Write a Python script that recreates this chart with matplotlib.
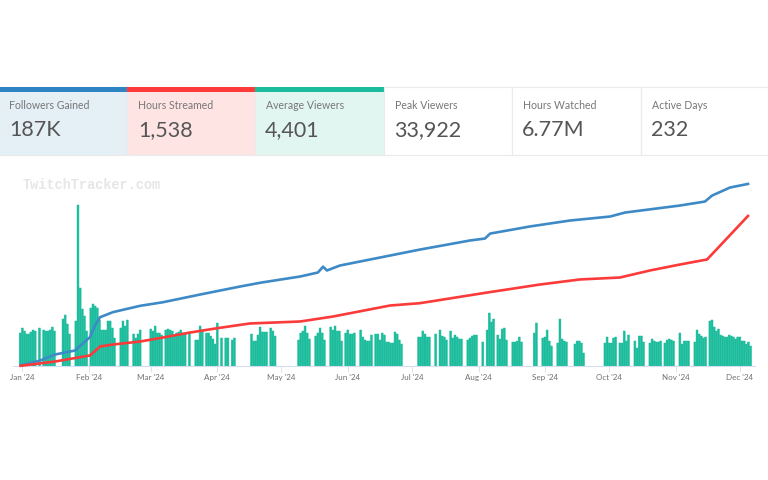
import matplotlib
matplotlib.use("Agg")
import matplotlib.pyplot as plt
from matplotlib.patches import Rectangle

W, H = 768, 480

card_labels = ["Followers Gained", "Hours Streamed", "Average Viewers",
               "Peak Viewers", "Hours Watched", "Active Days"]
card_values = ["187K", "1,538", "4,401", "33,922", "6.77M", "232"]
card_fills = ["#E4EFF6", "#FFE4E4", "#E1F6F1", "#FFFFFF", "#FFFFFF", "#FFFFFF"]
card_bars = ["#2E84C3", "#FF3A3A", "#1ABC9C", None, None, None]
card_edges = [-2, 126.5, 255, 384, 512, 640.5, 770]
label_x = [9, 138, 266, 395, 523, 652]
value_x = [9, 138, 265, 394, 522, 651]

month_days = [0, 31, 60, 91, 121, 152, 182, 213, 244, 274, 305, 335]
month_labels = ["Jan '24", "Feb '24", "Mar '24", "Apr '24", "May '24", "Jun '24",
                "Jul '24", "Aug '24", "Sep '24", "Oct '24", "Nov '24", "Dec '24"]

# daily bar heights (chart units)
bars_a = [33, 38, 35, 32, 32, 34, 36, 35, 0, 38, 0, 36, 35, 35, 36, 39, 35, 0, 0, 0,
          47, 51, 42, 32, 0, 0, 45, 161, 78, 57, 50, 35, 0,
          58, 62, 60, 58, 46, 36, 36, 36, 45, 45, 38, 28, 0, 0,
          38, 45, 40, 46, 0, 0, 32, 28, 32, 36, 0, 0, 0, 0,
          37, 35, 40, 33, 33, 31, 0, 36, 37, 36, 35, 31, 33, 34, 36, 33, 33, 0, 33, 0, 0,
          26, 26, 40, 36, 0, 33, 33, 30, 27, 22, 43, 0, 28, 0, 28, 28, 0, 26, 28]
bars_b = [0, 0, 0, 0, 0, 0, 0, 32, 25, 25, 31, 39, 34, 34, 34, 0, 38, 35, 30,
          0, 0, 0, 0, 0, 0, 0, 0, 0, 0, 26, 33, 35, 40, 33, 27, 0, 0,
          30, 33, 38, 33, 26, 0, 0, 39, 36, 40, 35, 35, 25, 0,
          33, 36, 32, 32, 33, 0, 0, 36, 29, 26, 25, 25, 31, 0,
          32, 32, 26, 33, 31, 24, 24, 23, 23, 34, 32, 26, 22,
          0, 0, 0, 0, 0, 0, 0, 29, 29, 35, 32, 29, 29, 0, 0, 32, 0, 36, 30, 29, 26, 0,
          35, 28, 31, 29, 27, 27, 0, 0, 26, 28, 30, 31, 31, 0, 0, 24, 0]
bars_c = [36, 53, 44, 47, 0, 31, 27, 37, 38, 26, 0, 0, 24, 24, 25, 29, 24,
          0, 0, 0, 0, 0, 33, 43, 0, 0, 28, 29, 36, 25, 20, 0, 0,
          23, 47, 27, 25, 24, 0, 0, 0, 22, 25, 25, 23, 13,
          0, 0, 0, 0, 0, 0, 0, 0, 0,
          23, 29, 23, 23, 28, 29, 0, 23, 23, 35, 25, 31, 0, 0,
          25, 18, 30, 30, 24, 0, 0, 23, 27, 25, 24, 24, 25, 0,
          23, 26, 27, 26, 25, 0, 0, 33, 22, 25, 25, 25, 0, 0,
          24, 36, 32, 30, 28, 29, 0, 45, 46, 39, 35, 37, 31, 30, 29, 29, 31, 30, 29,
          27, 29, 29, 25, 25, 22, 24, 20]
bar_first_day = -1.0

blue_days = [-0.75, 8.3, 15.3, 24.6, 31.6, 33.9, 36.3, 42.3, 55, 65.7, 83, 101.6, 111.9,
             129.7, 138, 140.4, 142.2, 148.3, 167, 185.7, 209, 216, 218.4, 237, 255.7,
             274.4, 281.4, 307, 318.7, 322, 330.4, 338.8]
followers_k = [0.5, 5.6, 11.8, 15.9, 29.6, 41.6, 50.1, 55.3, 61.8, 65.5, 73.4, 81.6, 85.8,
               91.9, 96, 102, 98.1, 103.2, 111.4, 119.6, 128.9, 130.9, 136, 143.3, 149.4,
               153.5, 157.6, 164.8, 168.9, 175, 183.3, 187]

red_days = [-0.75, 15.3, 31.6, 36.3, 42.3, 55, 65.7, 78.3, 90.9, 106.3, 129.7, 145, 171.7,
            185.7, 217, 241.6, 260.3, 279, 293, 307, 319.7, 338.8]
hours_streamed = [2, 46, 108, 200, 220, 251, 292, 343, 387, 436, 456, 507, 620,
                  644, 753, 835, 887, 907, 979, 1040, 1092, 1538]

fig = plt.figure(figsize=(W / 100, H / 100), dpi=100, facecolor="white")

# cards, in pixel coordinates
bg = fig.add_axes([0, 0, 1, 1])
bg.set_xlim(0, W)
bg.set_ylim(H, 0)
bg.axis("off")
for i, (lab, val) in enumerate(zip(card_labels, card_values)):
    x0, x1 = card_edges[i], card_edges[i + 1]
    bg.add_patch(Rectangle((x0, 87), x1 - x0, 68.3, facecolor=card_fills[i],
                           edgecolor="#EAEAEA", lw=0.8))
    if card_bars[i]:
        bg.add_patch(Rectangle((x0, 86.5), x1 - x0, 5.8, facecolor=card_bars[i], edgecolor="none"))
    bg.text(label_x[i], 105.5, lab, family="Lato", fontsize=7.6, color="#777777", va="center")
    bg.text(value_x[i], 130, val, family="Lato", fontsize=15.5, color="#555555", va="center")
bg.text(23, 185, "TwitchTracker.com", family="Liberation Mono", fontsize=9.8,
        color="#E6E6E6", va="center", weight="bold")

# chart
px_left, px_right, px_top, px_base = 13, 755, 200, 366
ax = fig.add_axes([px_left / W, 1 - px_base / H, (px_right - px_left) / W, (px_base - px_top) / H])
ax.patch.set_alpha(0)
ax.set_xlim((px_left - 22.3) / 2.142, (px_right - 22.3) / 2.142)
ax.set_ylim(0, 166)
bar_values = bars_a + bars_b + bars_c
bar_pairs = [(bar_first_day + i, v) for i, v in enumerate(bar_values) if v > 0]
ax.bar([p[0] for p in bar_pairs], [p[1] for p in bar_pairs], width=0.9, color="#1ABC9C",
       edgecolor="#1ABC9C", linewidth=0.35, zorder=1, snap=False)
for s in ["top", "left", "right"]:
    ax.spines[s].set_visible(False)
ax.spines["bottom"].set_color("#D5DDF0")
ax.spines["bottom"].set_linewidth(0.8)
ax.set_yticks([])
ax.set_xticks(month_days)
ax.set_xticklabels(month_labels, family="Lato", fontsize=5.8, color="#707070")
ax.tick_params(axis="x", length=4, width=0.6, color="#D5DDF0", pad=1.8)

ax_blue = ax.twinx()
ax_blue.set_ylim(0, 166 * 1.027)
ax_blue.axis("off")
ax_blue.plot(blue_days, followers_k, color="#3D8AC6", lw=1.9, solid_joinstyle="round",
             zorder=3, clip_on=False)

ax_red = ax.twinx()
ax_red.set_ylim(0, 166 * 10.25)
ax_red.axis("off")
ax_red.plot(red_days, hours_streamed, color="#FB3A3A", lw=1.9, solid_joinstyle="round",
            zorder=4, clip_on=False)

fig.savefig("out.png", dpi=100)
